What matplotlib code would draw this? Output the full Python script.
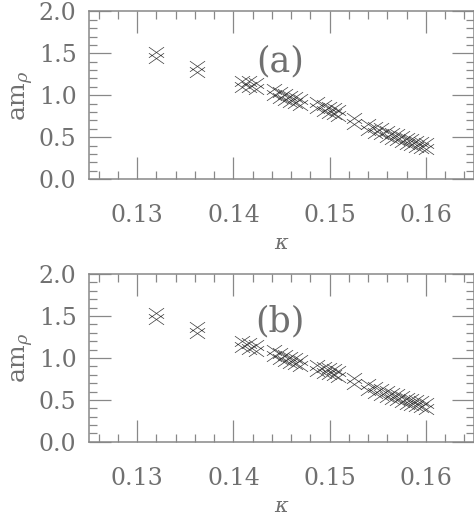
import matplotlib
matplotlib.use("Agg")
import matplotlib.pyplot as plt
from matplotlib.path import Path
from matplotlib.ticker import MultipleLocator, FormatStrFormatter

# kappa values and a m_rho
kappa = [0.1320, 0.1362, 0.1409, 0.1416, 0.1423,
         0.1442, 0.1448, 0.1454, 0.1459, 0.1464, 0.1469,
         0.1487, 0.1494, 0.1499, 0.1504, 0.1509, 0.1525,
         0.1540, 0.1547, 0.1553, 0.1560, 0.1565, 0.1570,
         0.1575, 0.1580, 0.1585, 0.1590, 0.1595, 0.1600]
mrho_a = [1.48, 1.31, 1.14, 1.13, 1.11,
          1.04, 1.00, 0.98, 0.96, 0.94, 0.92,
          0.88, 0.85, 0.83, 0.81, 0.79, 0.69,
          0.62, 0.59, 0.57, 0.54, 0.52, 0.50,
          0.48, 0.46, 0.44, 0.42, 0.41, 0.39]
mrho_b = [1.50, 1.33, 1.16, 1.14, 1.12,
          1.06, 1.02, 1.00, 0.98, 0.96, 0.94,
          0.88, 0.86, 0.85, 0.83, 0.81, 0.72,
          0.65, 0.62, 0.60, 0.57, 0.55, 0.53,
          0.51, 0.49, 0.47, 0.46, 0.45, 0.43]
panels = ["(a)", "(b)"]

# marker: two crosses on top of each other (upper / lower end of the error)
h, d = 0.7, 0.4
verts, codes = [], []
for off in (d, -d):
    verts += [(-1, off - h), (1, off + h), (-1, off + h), (1, off - h)]
    codes += [Path.MOVETO, Path.LINETO, Path.MOVETO, Path.LINETO]
double_x = Path(verts, codes)

plt.rcParams['font.family'] = ['DejaVu Serif']
plt.rcParams['mathtext.fontset'] = 'dejavuserif'
grey = '#707070'

fig = plt.figure(figsize=(4.74, 5.15), dpi=100)
boxes = [[0.188, 0.652, 0.812, 0.326], [0.188, 0.142, 0.812, 0.326]]

for box, y, lab, ly in zip(boxes, [mrho_a, mrho_b], panels, [0.70, 0.72]):
    ax = fig.add_axes(box)
    ax.plot(kappa, y, linestyle='none', marker=double_x, markersize=12,
            markerfacecolor='none', markeredgecolor='#3a3a3a', markeredgewidth=0.5)
    ax.set_xlim(0.125, 0.165)
    ax.set_ylim(0.0, 2.0)
    ax.xaxis.set_major_locator(MultipleLocator(0.01))
    ax.xaxis.set_minor_locator(MultipleLocator(0.002))
    ax.yaxis.set_major_locator(MultipleLocator(0.5))
    ax.yaxis.set_minor_locator(MultipleLocator(0.1))
    ax.xaxis.set_major_formatter(FormatStrFormatter('%.2f'))
    ax.yaxis.set_major_formatter(FormatStrFormatter('%.1f'))
    ax.tick_params(which='both', direction='in', top=True, right=True,
                   color='#888888', width=0.9, labelcolor=grey, labelsize=17)
    ax.tick_params(which='major', length=16)
    ax.tick_params(which='minor', length=5.5)
    ax.tick_params(axis='x', pad=18)
    ax.tick_params(axis='y', pad=9)
    for s in ax.spines.values():
        s.set_color('#888888')
        s.set_linewidth(1.1)
    ax.set_xlabel(r'$\kappa$', fontsize=15, color=grey, labelpad=5)
    ax.set_ylabel(r'am$_\rho$', fontsize=18, color=grey, labelpad=2)
    ax.text(0.497, ly, lab, transform=ax.transAxes, ha='center', va='center',
            fontsize=25, color=grey)

fig.savefig('out.png', dpi=100)
